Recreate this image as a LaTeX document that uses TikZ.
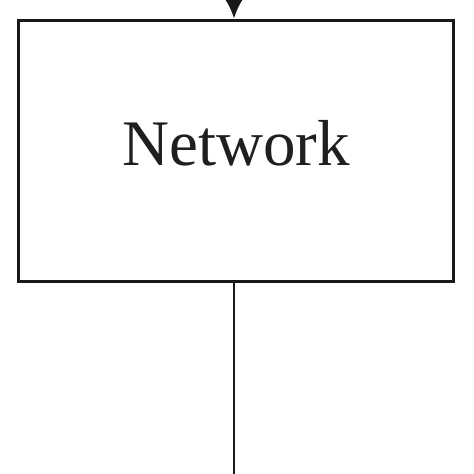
\documentclass[tikz,border=0pt]{standalone}
\usepackage{fontspec}
\setmainfont{Liberation Serif}
\usetikzlibrary{arrows.meta}
\begin{document}
\begin{tikzpicture}[x=1pt,y=-1pt,
  blockbox/.style={draw=black!90, line width=3pt, minimum width=435pt, minimum height=261pt, inner sep=0pt, fill=white},
  conn/.style={draw=black!90, line width=2.6pt},
  lbl/.style={font=\fontsize{65}{70}\selectfont, text=black!88}]
\useasboundingbox[fill=white] (0,0) rectangle (474,474);
\node[blockbox] (net) at (235.5,150.5) {};
\node[lbl, anchor=base] (txt) at (236,165) {Network};
\coordinate (top) at (234,-12);
\coordinate (bot) at (234,480);
\draw[conn, -{Latex[length=20pt,width=19pt]}] (top) -- (top |- net.north);
\draw[conn] (bot |- net.south) -- (bot);
\end{tikzpicture}
\end{document}
